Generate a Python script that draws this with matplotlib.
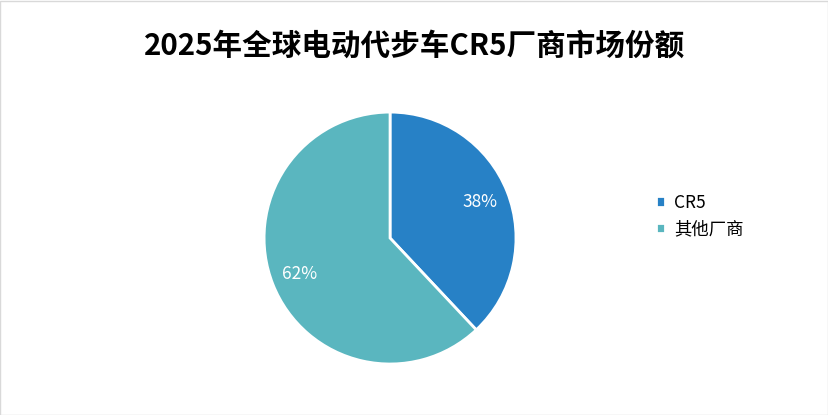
import matplotlib.pyplot as plt
from matplotlib.patches import Rectangle

plt.rcParams['font.family'] = ['Noto Sans CJK SC', 'DejaVu Sans']

# 厂商份额
labels = ['CR5', '其他厂商']
shares = [38, 62]
colors = ['#2781C6', '#5AB6BF']

fig = plt.figure(figsize=(8.29, 4.15), dpi=100)
fig.patches.append(Rectangle((0.0006, 0.001), 0.9985, 0.997, transform=fig.transFigure,
                             fill=False, edgecolor='#D9D9D9', linewidth=1))

ax = fig.add_axes([0.3185, 0.1229, 0.304, 0.607])
wedges, texts, autotexts = ax.pie(
    shares, colors=colors, startangle=90, counterclock=False,
    autopct='%d%%', pctdistance=0.77,
    wedgeprops=dict(edgecolor='white', linewidth=2),
    textprops=dict(color='white', fontsize=12.5))
ax.set_xlim(-1.0, 1.0)
ax.set_ylim(-1.0, 1.0)
ax.set_aspect('equal')

fig.text(0.5, 0.89, '2025年全球电动代步车CR5厂商市场份额', ha='center', va='center',
         fontsize=21.3, fontweight='heavy', color='black')

fig.legend(wedges, labels, loc='center left', bbox_to_anchor=(0.772, 0.48),
           frameon=False, fontsize=12.5, handlelength=0.55, handleheight=0.55,
           handletextpad=0.5, labelspacing=0.48)

fig.savefig('out.png', dpi=100)
